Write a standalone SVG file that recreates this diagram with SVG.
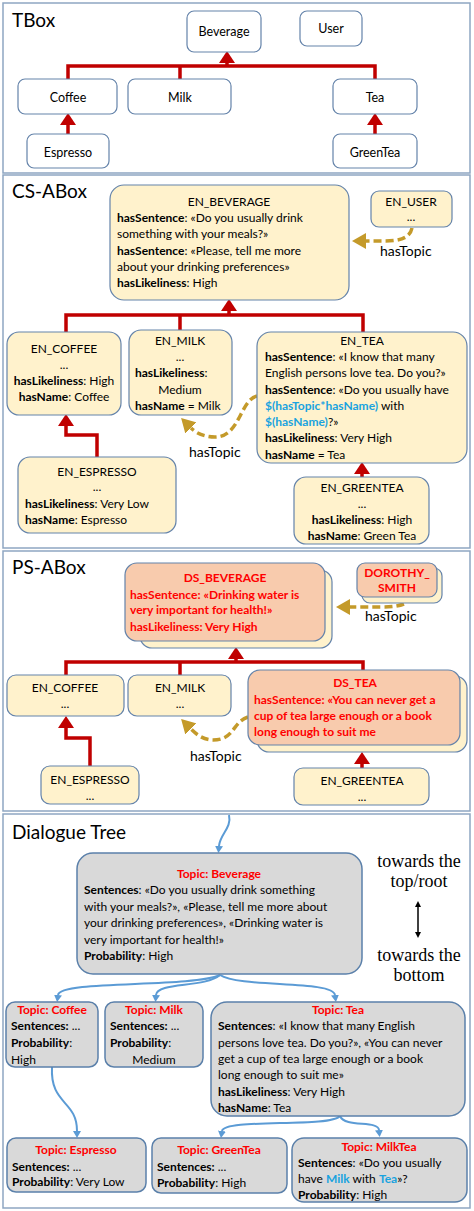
<svg xmlns="http://www.w3.org/2000/svg" width="474" height="1211" viewBox="0 0 474 1211">
<style>
text{font-family:Lato,"Open Sans",sans-serif;font-size:12px;fill:#000}
.t{font-size:19px}
.tl{font-size:12.5px}
.c{text-anchor:middle}
.b{font-weight:bold}
.r{fill:#ff0000;font-weight:bold}
.bl{fill:#1aa3df;font-weight:bold}
.lbl{font-size:14px}
.serif{font-family:"Liberation Serif","Times New Roman",serif;font-size:18px}
.panel{fill:#fff;stroke:#8ea6c2;stroke-width:1.5}
.tb{fill:#fff;stroke:#6483aa;stroke-width:1.2}
.en{fill:#fff2cc;stroke:#6483aa;stroke-width:1.2}
.ds{fill:#f8cbad;stroke:#6483aa;stroke-width:1.2}
.dt{fill:#d9d9d9;stroke:#5b80aa;stroke-width:1.5}
.red{fill:none;stroke:#c00000;stroke-width:3.5}
.gold{fill:none;stroke:#c49a2a;stroke-width:3.5;stroke-dasharray:8 4}
.blu{fill:none;stroke:#5b9bd5;stroke-width:2}
.blk{fill:none;stroke:#000;stroke-width:1.5}
</style>
<defs>
<marker id="ra" markerUnits="userSpaceOnUse" markerWidth="12" markerHeight="16" viewBox="0 0 12 16" refX="0" refY="8" orient="auto"><path d="M0,0 L12,8 L0,16 z" fill="#c00000"/></marker>
<marker id="ga" markerUnits="userSpaceOnUse" markerWidth="14" markerHeight="16" viewBox="0 0 14 16" refX="0" refY="8" orient="auto"><path d="M0,0 L14,8 L0,16 z" fill="#c49a2a"/></marker>
<marker id="ba" markerUnits="userSpaceOnUse" markerWidth="7" markerHeight="8" viewBox="0 0 7 8" refX="0" refY="4" orient="auto"><path d="M0,0 L7,4 L0,8 z" fill="#5b9bd5"/></marker>
<marker id="ka" markerUnits="userSpaceOnUse" markerWidth="6" markerHeight="6" viewBox="0 0 6 6" refX="0" refY="3" orient="auto-start-reverse"><path d="M0,0 L6,3 L0,6 z" fill="#000"/></marker>
</defs>

<!-- panels -->
<g id="panels">
<rect class="panel" x="3" y="3" width="467" height="170"/>
<rect class="panel" x="3" y="175" width="467" height="373"/>
<rect class="panel" x="3" y="551" width="467" height="260"/>
<rect class="panel" x="3" y="814" width="467" height="394"/>
<text class="t" x="12" y="27">TBox</text>
<text class="t" x="12" y="198">CS-ABox</text>
<text class="t" x="12" y="574">PS-ABox</text>
<text class="t" x="12" y="839">Dialogue Tree</text>
</g>

<!-- connectors -->
<g id="connectors">
<path class="red" d="M68,79 V66 H375 V79 M180,66 V79"/>
<path class="red" d="M227,66 V63" marker-end="url(#ra)"/>
<path class="red" d="M68,134 V125" marker-end="url(#ra)"/>
<path class="red" d="M375,134 V125" marker-end="url(#ra)"/>

<path class="red" d="M66,332 V315 H363 V332 M180,315 V330"/>
<path class="red" d="M229,315 V311" marker-end="url(#ra)"/>
<path class="red" d="M97,457 V435 H66 V426" marker-end="url(#ra)"/>
<path class="red" d="M362,477 V474" marker-end="url(#ra)"/>
<path class="gold" d="M412,228 C410,238 400,241 385,241 L366,241" marker-end="url(#ga)"/>
<path class="gold" d="M257,396 C240,400 240,437 215,437 C204,437 196,433 191,428" marker-end="url(#ga)"/>
<text class="lbl" x="380" y="256">hasTopic</text>
<text class="lbl" x="189" y="457">hasTopic</text>

<path class="red" d="M66,676 V662 H363 V671 M180,662 V676"/>
<path class="red" d="M236,662 V659" marker-end="url(#ra)"/>
<path class="red" d="M90,766 V738 H66 V728" marker-end="url(#ra)"/>
<path class="red" d="M362,768 V764" marker-end="url(#ra)"/>
<path class="gold" d="M404,604 Q396,607 382,607 L350,607" marker-end="url(#ga)"/>
<path class="gold" d="M248,717 C232,722 235,740 213,740 C203,740 196,734 191,729" marker-end="url(#ga)"/>
<text class="lbl" x="365" y="621">hasTopic</text>
<text class="lbl" x="190" y="761">hasTopic</text>

<path class="blu" d="M229,815 C232,828 220,834 219,846" marker-end="url(#ba)"/>
<path class="blu" d="M220,975 C190,988 60,980 58,995" marker-end="url(#ba)"/>
<path class="blu" d="M220,975 C205,988 157,982 156,995" marker-end="url(#ba)"/>
<path class="blu" d="M220,975 C240,988 333,980 335,995" marker-end="url(#ba)"/>
<path class="blu" d="M52,1067 C50,1105 77,1100 77,1131" marker-end="url(#ba)"/>
<path class="blu" d="M340,1116 C330,1128 224,1118 222,1131" marker-end="url(#ba)"/>
<path class="blu" d="M340,1116 C345,1128 378,1120 379,1130" marker-end="url(#ba)"/>
<path class="blk" d="M418,907 V932" marker-start="url(#ka)" marker-end="url(#ka)"/>
</g>

<!-- TBox nodes -->
<g id="tb-beverage"><rect class="tb" x="187" y="11" width="74" height="41" rx="7"/><text class="tl c" x="224" y="36">Beverage</text></g>
<g id="tb-user"><rect class="tb" x="300" y="11" width="62" height="35" rx="7"/><text class="tl c" x="331" y="33">User</text></g>
<g id="tb-coffee"><rect class="tb" x="18" y="79" width="99" height="35" rx="7"/><text class="tl c" x="68" y="102">Coffee</text></g>
<g id="tb-milk"><rect class="tb" x="128" y="79" width="103" height="35" rx="7"/><text class="tl c" x="180" y="102">Milk</text></g>
<g id="tb-tea"><rect class="tb" x="333" y="79" width="84" height="35" rx="7"/><text class="tl c" x="375" y="102">Tea</text></g>
<g id="tb-espresso"><rect class="tb" x="27" y="134" width="82" height="34" rx="7"/><text class="tl c" x="68" y="157">Espresso</text></g>
<g id="tb-greentea"><rect class="tb" x="333" y="134" width="84" height="34" rx="7"/><text class="tl c" x="375" y="157">GreenTea</text></g>

<!-- CS-ABox nodes -->
<g id="cs-beverage"><rect class="en" x="110" y="185" width="239" height="115" rx="14"/>
<text class="c" x="229" y="206">EN_BEVERAGE</text>
<text x="117" y="222"><tspan class="b">hasSentence</tspan>: «Do you usually drink</text>
<text x="117" y="238">something with your meals?»</text>
<text x="117" y="255"><tspan class="b">hasSentence</tspan>: «Please, tell me more</text>
<text x="117" y="271">about your drinking preferences»</text>
<text x="117" y="287"><tspan class="b">hasLikeliness</tspan>: High</text></g>
<g id="cs-user"><rect class="en" x="371" y="191" width="81" height="36" rx="8"/>
<text class="c" x="411" y="206">EN_USER</text><text class="c" x="411" y="221">...</text></g>
<g id="cs-coffee"><rect class="en" x="7" y="332" width="114" height="83" rx="12"/>
<text class="c" x="64" y="353">EN_COFFEE</text><text class="c" x="64" y="369">...</text>
<text class="c" x="64" y="385"><tspan class="b">hasLikeliness</tspan>: High</text>
<text class="c" x="64" y="401"><tspan class="b">hasName</tspan>: Coffee</text></g>
<g id="cs-milk"><rect class="en" x="129" y="330" width="103" height="85" rx="12"/>
<text class="c" x="180" y="345">EN_MILK</text><text class="c" x="180" y="361">...</text>
<text x="135" y="377"><tspan class="b">hasLikeliness</tspan>:</text>
<text class="c" x="180" y="394">Medium</text>
<text x="135" y="410"><tspan class="b">hasName</tspan> = Milk</text></g>
<g id="cs-tea"><rect class="en" x="257" y="332" width="210" height="131" rx="14"/>
<text class="c" x="362" y="345">EN_TEA</text>
<text x="265" y="361"><tspan class="b">hasSentence</tspan>: «I know that many</text>
<text x="265" y="377">English persons love tea. Do you?»</text>
<text x="265" y="394"><tspan class="b">hasSentence</tspan>: «Do you usually have</text>
<text x="265" y="410"><tspan class="bl">$(hasTopic*hasName)</tspan> with</text>
<text x="265" y="426"><tspan class="bl">$(hasName)</tspan>?»</text>
<text x="265" y="442"><tspan class="b">hasLikeliness</tspan>: Very High</text>
<text x="265" y="459"><tspan class="b">hasName</tspan> = Tea</text></g>
<g id="cs-espresso"><rect class="en" x="18" y="457" width="158" height="76" rx="12"/>
<text class="c" x="97" y="476">EN_ESPRESSO</text><text class="c" x="97" y="491">...</text>
<text x="25" y="508"><tspan class="b">hasLikeliness</tspan>: Very Low</text>
<text x="25" y="524"><tspan class="b">hasName</tspan>: Espresso</text></g>
<g id="cs-greentea"><rect class="en" x="294" y="477" width="135" height="67" rx="12"/>
<text class="c" x="362" y="492">EN_GREENTEA</text><text class="c" x="362" y="508">...</text>
<text class="c" x="362" y="524"><tspan class="b">hasLikeliness</tspan>: High</text>
<text class="c" x="362" y="540"><tspan class="b">hasName</tspan>: Green Tea</text></g>

<!-- PS-ABox nodes -->
<g id="ps-beverage"><rect class="en" x="140" y="570" width="192" height="78" rx="12"/>
<rect class="ds" x="125" y="563" width="200" height="78" rx="12"/>
<text class="r c" x="225" y="582">DS_BEVERAGE</text>
<text class="r" x="130" y="599">hasSentence: «Drinking water is</text>
<text class="r" x="130" y="614">very important for health!»</text>
<text class="r" x="130" y="631">hasLikeliness: Very High</text></g>
<g id="ps-dorothy"><rect class="en" x="362" y="568" width="80" height="35" rx="8"/>
<rect class="ds" x="357" y="563" width="80" height="34" rx="8"/>
<text class="r c" x="397" y="577">DOROTHY_</text><text class="r c" x="397" y="592">SMITH</text></g>
<g id="ps-coffee"><rect class="en" x="7" y="675" width="117" height="41" rx="9"/>
<text class="c" x="65" y="692">EN_COFFEE</text><text class="c" x="65" y="708">...</text></g>
<g id="ps-milk"><rect class="en" x="128" y="675" width="103" height="41" rx="9"/>
<text class="c" x="180" y="692">EN_MILK</text><text class="c" x="180" y="708">...</text></g>
<g id="ps-tea"><rect class="en" x="257" y="676" width="210" height="76" rx="12"/>
<rect class="ds" x="248" y="670" width="212" height="75" rx="12"/>
<text class="r c" x="355" y="687">DS_TEA</text>
<text class="r" x="254" y="704">hasSentence: «You can never get a</text>
<text class="r" x="254" y="720">cup of tea large enough or a book</text>
<text class="r" x="254" y="736">long enough to suit me</text></g>
<g id="ps-espresso"><rect class="en" x="41" y="766" width="98" height="38" rx="9"/>
<text class="c" x="90" y="784">EN_ESPRESSO</text><text class="c" x="90" y="800">...</text></g>
<g id="ps-greentea"><rect class="en" x="294" y="768" width="135" height="37" rx="9"/>
<text class="c" x="362" y="785">EN_GREENTEA</text><text class="c" x="362" y="801">...</text></g>

<!-- Dialogue tree nodes -->
<g id="dt-beverage"><rect class="dt" x="77" y="853" width="285" height="121" rx="16"/>
<text class="r c" x="219" y="878">Topic: Beverage</text>
<text x="84" y="894"><tspan class="b">Sentences</tspan>: «Do you usually drink something</text>
<text x="84" y="911">with your meals?»,  «Please, tell me more about</text>
<text x="84" y="927">your drinking preferences», «Drinking water is</text>
<text x="84" y="944">very important for health!»</text>
<text x="84" y="960"><tspan class="b">Probability</tspan>: High</text></g>
<g id="dt-legend">
<text class="serif c" x="419" y="867">towards the</text>
<text class="serif c" x="419" y="887">top/root</text>
<text class="serif c" x="419" y="961">towards the</text>
<text class="serif c" x="419" y="981">bottom</text></g>
<g id="dt-coffee"><rect class="dt" x="6" y="1002" width="92" height="65" rx="9"/>
<text class="r c" x="52" y="1014">Topic: Coffee</text>
<text x="11" y="1030"><tspan class="b">Sentences:</tspan> ...</text>
<text x="11" y="1047"><tspan class="b">Probability</tspan>:</text>
<text x="11" y="1064">High</text></g>
<g id="dt-milk"><rect class="dt" x="105" y="1002" width="98" height="65" rx="9"/>
<text class="r c" x="154" y="1014">Topic: Milk</text>
<text x="110" y="1030"><tspan class="b">Sentences:</tspan> ...</text>
<text x="110" y="1047"><tspan class="b">Probability</tspan>:</text>
<text class="c" x="154" y="1064">Medium</text></g>
<g id="dt-tea"><rect class="dt" x="211" y="1002" width="254" height="114" rx="16"/>
<text class="r c" x="338" y="1014">Topic: Tea</text>
<text x="218" y="1030"><tspan class="b">Sentences</tspan>: «I know that many English</text>
<text x="218" y="1047">persons love tea. Do you?», «You can never</text>
<text x="218" y="1063">get a cup of tea large enough or a book</text>
<text x="218" y="1079">long enough to suit me»</text>
<text x="218" y="1096"><tspan class="b">hasLikeliness</tspan>: Very High</text>
<text x="218" y="1112"><tspan class="b">hasName</tspan>: Tea</text></g>
<g id="dt-espresso"><rect class="dt" x="7" y="1138" width="139" height="54" rx="9"/>
<text class="r c" x="76" y="1154">Topic: Espresso</text>
<text x="12" y="1171"><tspan class="b">Sentences:</tspan> ...</text>
<text x="12" y="1186"><tspan class="b">Probability</tspan>: Very Low</text></g>
<g id="dt-greentea"><rect class="dt" x="152" y="1138" width="135" height="55" rx="9"/>
<text class="r c" x="219" y="1154">Topic: GreenTea</text>
<text x="157" y="1171"><tspan class="b">Sentences:</tspan> ...</text>
<text x="157" y="1187"><tspan class="b">Probability</tspan>: High</text></g>
<g id="dt-milktea"><rect class="dt" x="292" y="1138" width="175" height="64" rx="12"/>
<text class="r c" x="379" y="1151">Topic: MilkTea</text>
<text x="298" y="1167"><tspan class="b">Sentences</tspan>: «Do you usually</text>
<text x="298" y="1183">have <tspan class="bl">Milk</tspan> with <tspan class="bl">Tea</tspan>»?</text>
<text x="298" y="1199"><tspan class="b">Probability</tspan>: High</text></g>
</svg>
